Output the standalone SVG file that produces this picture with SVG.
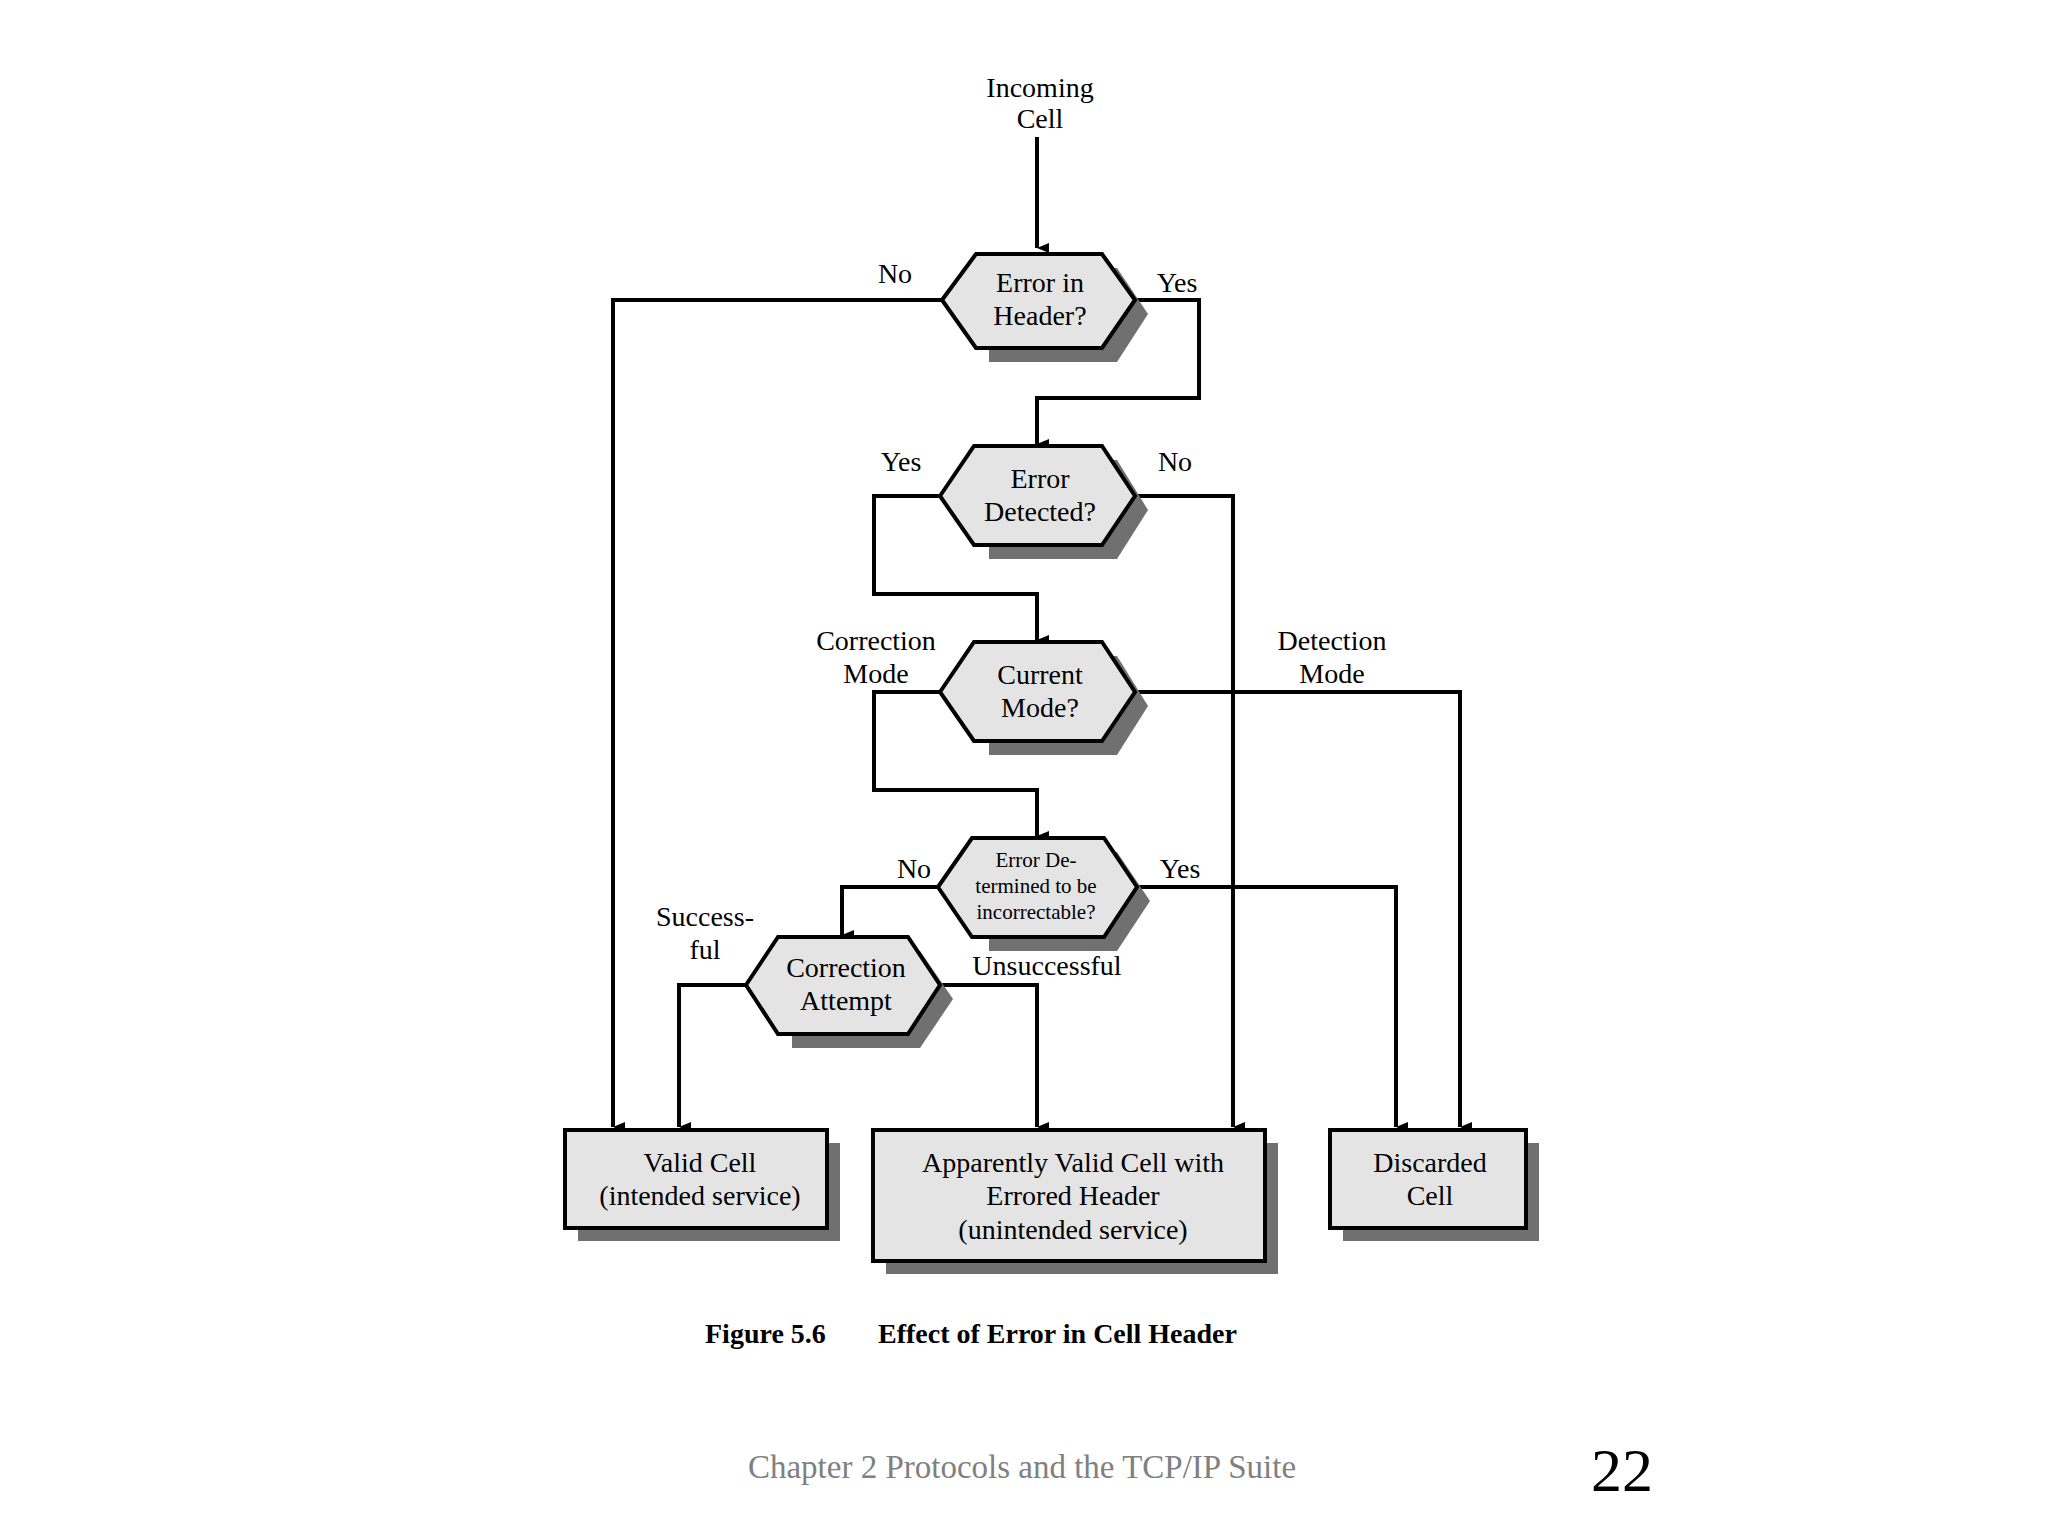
<svg xmlns="http://www.w3.org/2000/svg" width="2048" height="1536" viewBox="0 0 2048 1536">
<defs>
<marker id="ah" markerWidth="10" markerHeight="12" refX="5" refY="12" orient="auto-start-reverse" markerUnits="userSpaceOnUse" viewBox="0 0 10 12"><path d="M0,0 L10,0 L5,12 Z" fill="#000"/></marker>
<style>
text{font-family:"Liberation Serif","DejaVu Serif",serif;fill:#000;font-size:28px;text-anchor:middle}
.sh{fill:#707070}
.nd{fill:#e4e4e4;stroke:#000;stroke-width:4}
.c{fill:none;stroke:#000;stroke-width:4}
.b{font-weight:bold}
</style>
</defs>
<rect width="2048" height="1536" fill="#fff"/>
<text x="1040" y="97">Incoming</text><text x="1040" y="128">Cell</text>
<g id="connectors">
<path class="c" d="M1037,137 V248" marker-end="url(#ah)"/>
<path class="c" d="M942,300 H613 V1127" marker-end="url(#ah)"/>
<path class="c" d="M1135,300 H1199 V398 H1037 V444" marker-end="url(#ah)"/>
<path class="c" d="M940,496 H874 V594 H1037 V640" marker-end="url(#ah)"/>
<path class="c" d="M1135,496 H1233 V1127" marker-end="url(#ah)"/>
<path class="c" d="M940,692 H874 V790 H1037 V836" marker-end="url(#ah)"/>
<path class="c" d="M1135,692 H1460 V1127" marker-end="url(#ah)"/>
<path class="c" d="M938,887 H842 V935" marker-end="url(#ah)"/>
<path class="c" d="M1137,887 H1396 V1127" marker-end="url(#ah)"/>
<path class="c" d="M746,985 H679 V1127" marker-end="url(#ah)"/>
<path class="c" d="M940,985 H1037 V1127" marker-end="url(#ah)"/>
</g>
<g id="n1"><polygon class="sh" points="989,268 1117,268 1148,314 1117,362 989,362"/><polygon class="nd" points="942,300 976,254 1102,254 1135,300 1102,348 976,348"/><text x="1040" y="292">Error in</text><text x="1040" y="325">Header?</text></g>
<g id="n2"><polygon class="sh" points="989,460 1117,460 1148,510 1117,559 989,559"/><polygon class="nd" points="940,496 974,446 1102,446 1135,496 1102,545 974,545"/><text x="1040" y="488">Error</text><text x="1040" y="521">Detected?</text></g>
<g id="n3"><polygon class="sh" points="989,656 1117,656 1148,706 1117,755 989,755"/><polygon class="nd" points="940,692 974,642 1102,642 1135,692 1102,741 974,741"/><text x="1040" y="684">Current</text><text x="1040" y="717">Mode?</text></g>
<g id="n4"><polygon class="sh" points="989,852 1117,852 1150,901 1117,951 989,951"/><polygon class="nd" points="938,887 972,838 1104,838 1137,887 1104,937 972,937"/><text x="1036" y="867" style="font-size:21px">Error De-</text><text x="1036" y="893" style="font-size:21px">termined to be</text><text x="1036" y="919" style="font-size:21px">incorrectable?</text></g>
<g id="n5"><polygon class="sh" points="792,951 920,951 953,999 920,1048 792,1048"/><polygon class="nd" points="746,985 778,937 908,937 940,985 908,1034 778,1034"/><text x="846" y="977">Correction</text><text x="846" y="1010">Attempt</text></g>
<g id="b1"><rect class="sh" x="578" y="1143" width="262" height="98"/><rect class="nd" x="565" y="1130" width="262" height="98"/><text x="700" y="1172">Valid Cell</text><text x="700" y="1205">(intended service)</text></g>
<g id="b2"><rect class="sh" x="886" y="1143" width="392" height="131"/><rect class="nd" x="873" y="1130" width="392" height="131"/><text x="1073" y="1172">Apparently Valid Cell with</text><text x="1073" y="1205">Errored Header</text><text x="1073" y="1239">(unintended service)</text></g>
<g id="b3"><rect class="sh" x="1343" y="1143" width="196" height="98"/><rect class="nd" x="1330" y="1130" width="196" height="98"/><text x="1430" y="1172">Discarded</text><text x="1430" y="1205">Cell</text></g>
<g id="labels">
<text x="895" y="283">No</text><text x="1177" y="292">Yes</text>
<text x="901" y="471">Yes</text><text x="1175" y="471">No</text>
<text x="876" y="650">Correction</text><text x="876" y="683">Mode</text>
<text x="1332" y="650">Detection</text><text x="1332" y="683">Mode</text>
<text x="914" y="878">No</text><text x="1180" y="878">Yes</text>
<text x="705" y="926">Success-</text><text x="705" y="959">ful</text>
<text x="1047" y="975">Unsuccessful</text>
</g>
<text x="705" y="1343" class="b" style="text-anchor:start">Figure 5.6</text>
<text x="878" y="1343" class="b" style="text-anchor:start">Effect of Error in Cell Header</text>
<text x="1022" y="1478" style="font-size:33px;fill:#808080">Chapter 2 Protocols and the TCP/IP Suite</text>
<text x="1622" y="1491" style="font-size:62px">22</text>
</svg>
